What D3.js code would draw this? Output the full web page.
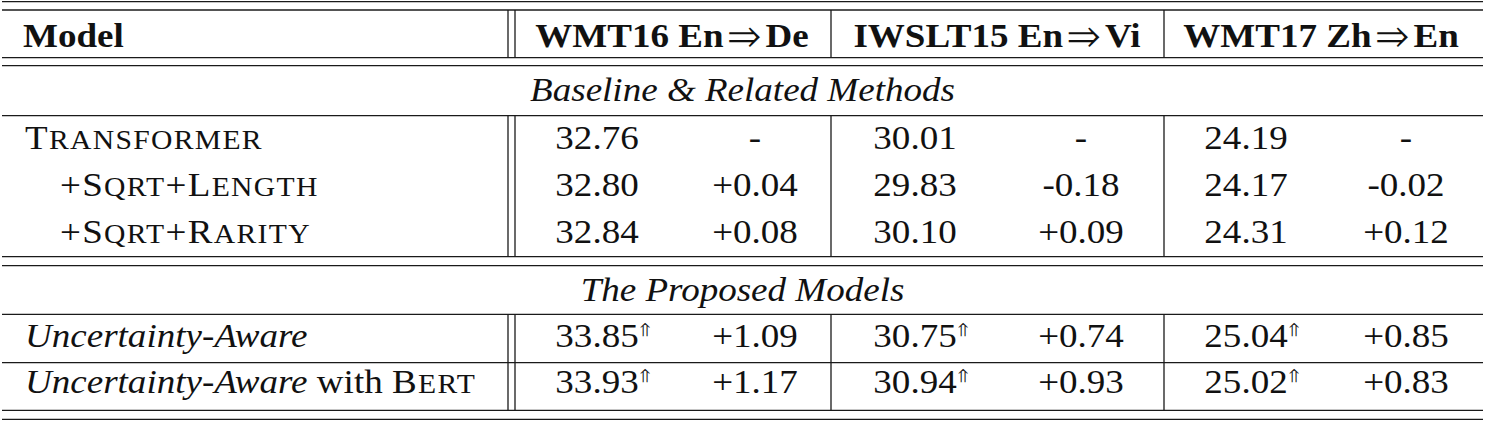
<!DOCTYPE html>
<html lang="en">
<head>
<meta charset="UTF-8">
<title>Results table</title>
<script src="https://d3js.org/d3.v7.min.js"></script>
<style>
  body { margin: 0; background: #fff; }
</style>
</head>
<body>
<script>
// header
const datasets = ["WMT16 En\u21d2De", "IWSLT15 En\u21d2Vi", "WMT17 Zh\u21d2En"];
const sections = ["Baseline & Related Methods", "The Proposed Models"];

// baseline & related methods (style: sc = small caps, it = italic)
const baseModels = [
  [{t: "Transformer", s: "sc"}],
  [{t: "+Sqrt+Length", s: "sc"}],
  [{t: "+Sqrt+Rarity", s: "sc"}]
];
const baseIndent = [false, true, true];
const baseBleu = [
  ["32.76", "30.01", "24.19"],
  ["32.80", "29.83", "24.17"],
  ["32.84", "30.10", "24.31"]
];
const baseDelta = [
  ["-", "-", "-"],
  ["+0.04", "-0.18", "-0.02"],
  ["+0.08", "+0.09", "+0.12"]
];

// proposed models
const propModels = [
  [{t: "Uncertainty-Aware", s: "it"}],
  [{t: "Uncertainty-Aware", s: "it"}, {t: " with ", s: ""}, {t: "Bert", s: "sc"}]
];
const propBleu = [
  ["33.85", "30.75", "25.04"],
  ["33.93", "30.94", "25.02"]
];
const propDelta = [
  ["+1.09", "+0.74", "+0.85"],
  ["+1.17", "+0.93", "+0.83"]
];
const propSig = [[true, true, true], [true, true, true]];

const W = 1488, H = 423;
const FS = 34, SX = 1.09;   // glyphs in the picture are a bit wider than tall
const FONT = '"Liberation Serif"';
const left = 2, right = 1483;

const svg = d3.select("body").append("svg")
    .attr("width", W)
    .attr("height", H);

// column positions
const scoreX = d3.scaleOrdinal().domain(datasets).range([597, 915, 1246]);
const deltaX = d3.scaleOrdinal().domain(datasets).range([755, 1081, 1406]);
const headX = d3.scaleOrdinal().domain(datasets).range([672, 997, 1321]);

// row baselines
const yBase = d3.scaleLinear().domain([0, baseModels.length - 1]).range([149.3, 242.7]);
const yProp = d3.scaleLinear().domain([0, propModels.length - 1]).range([346.7, 393.3]);
const yHead = 46.5;
const ySection = [100.5, 300.5];

function put(x, y, anchor) {
  return svg.append("text")
    .attr("transform", `translate(${x},${y}) scale(${SX},1)`)
    .attr("text-anchor", anchor || "start")
    .attr("font-family", FONT)
    .attr("font-size", FS)
    .attr("fill", "#111");
}

// write a model name made of styled pieces
function writeName(txt, parts) {
  parts.forEach(p => {
    if (p.s === "sc") {
      // fake small caps: capitals full size, lower case letters shrunk
      const runs = [];
      for (const ch of p.t) {
        const small = ch !== ch.toUpperCase();
        if (runs.length && runs[runs.length - 1].small === small) runs[runs.length - 1].t += ch;
        else runs.push({t: ch, small: small});
      }
      runs.forEach(r => {
        txt.append("tspan")
          .attr("font-size", r.small ? FS * 0.8 : FS)
          .attr("letter-spacing", 1.2)
          .text(r.small ? r.t.toUpperCase() : r.t);
      });
    } else {
      txt.append("tspan")
        .attr("font-style", p.s === "it" ? "italic" : "normal")
        .text(p.t);
    }
  });
}

// rules
const hRules = [1.7, 10, 57.7, 65.7, 115.7, 256.7, 265.7, 314.3, 362.7, 410.3, 419.3];
svg.selectAll("line.h")
  .data(hRules)
  .enter().append("line")
    .attr("class", "h")
    .attr("x1", left).attr("x2", right)
    .attr("y1", d => d).attr("y2", d => d)
    .attr("stroke", "#1a1a1a")
    .attr("stroke-width", 1.3);

const vBlocks = [[10, 57.7], [115.7, 256.7], [314.3, 410.3]];
const vX = [508, 515, 831, 1164];
vBlocks.forEach(b => {
  svg.selectAll(null)
    .data(vX)
    .enter().append("line")
      .attr("x1", d => d).attr("x2", d => d)
      .attr("y1", b[0]).attr("y2", b[1])
      .attr("stroke", "#1a1a1a")
      .attr("stroke-width", 1.3);
});

// header
put(23, yHead).attr("font-weight", "bold").text("Model");
datasets.forEach(d => {
  const parts = d.split("\u21d2");
  const t = put(headX(d), yHead, "middle").attr("font-weight", "bold");
  t.append("tspan").text(parts[0]);
  // thin math arrow with relation spacing
  t.append("tspan")
    .attr("dx", 4)
    .attr("font-weight", "normal")
    .attr("font-family", '"FreeSerif"')
    .attr("font-size", 38)
    .text("\u21d2");
  t.append("tspan").attr("dx", 4).text(parts[1]);
});

// section titles
sections.forEach((s, i) => {
  put((left + right) / 2, ySection[i], "middle").attr("font-style", "italic").text(s);
});

// body rows
function drawRows(models, bleu, delta, sig, y, indent) {
  models.forEach((m, i) => {
    writeName(put(indent && indent[i] ? 60 : 25, y(i)), m);
    datasets.forEach((d, j) => {
      const t = put(scoreX(d), y(i), "middle").text(bleu[i][j]);
      if (sig && sig[i][j]) {
        const w = t.node().getComputedTextLength() * SX;
        svg.append("text")
          .attr("x", scoreX(d) + w / 2 + 1)
          .attr("y", y(i) - 11)
          .attr("font-size", 18)
          .attr("font-family", '"FreeSerif"')
          .attr("fill", "#111")
          .text("\u21d1");
      }
      put(deltaX(d), y(i), "middle").text(delta[i][j]);
    });
  });
}

drawRows(baseModels, baseBleu, baseDelta, null, yBase, baseIndent);
drawRows(propModels, propBleu, propDelta, propSig, yProp, null);
</script>
</body>
</html>
